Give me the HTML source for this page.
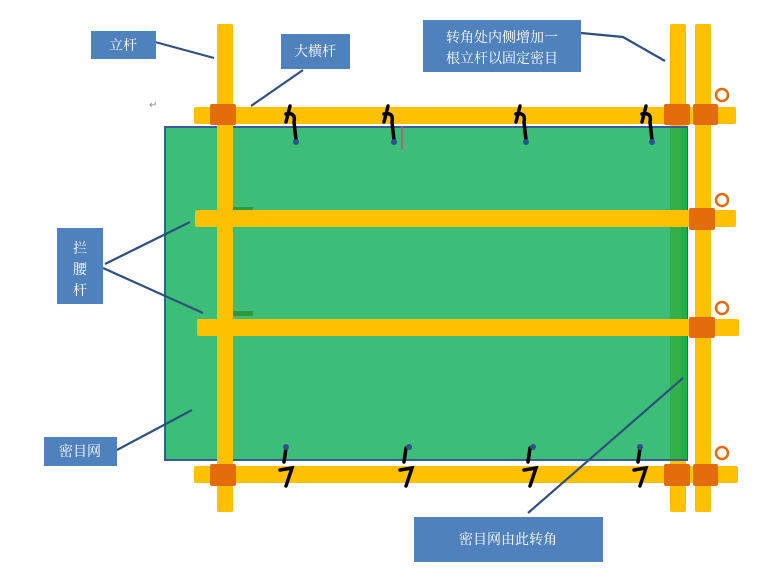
<!DOCTYPE html>
<html><head><meta charset="utf-8"><style>
html,body{margin:0;padding:0;background:#fff;}
svg{display:block;}
text{font-family:"Liberation Serif","Noto Serif CJK SC","Noto Sans CJK SC",serif;fill:#fff;font-size:14px;}
</style></head><body>
<svg width="760" height="570" viewBox="0 0 760 570" xmlns="http://www.w3.org/2000/svg">
<!-- vertical poles (inner right behind net) -->
<rect x="670" y="24" width="16" height="488" rx="2" fill="#FFC000"/>
<!-- green net -->
<rect x="165" y="127" width="522" height="333" fill="#3DBE78" stroke="#3A5A9A" stroke-width="2"/>
<rect x="670" y="128" width="17" height="331" fill="#33B04A"/>
<rect x="681" y="128" width="6" height="331" fill="#1FB043"/>
<!-- small tabs -->
<rect x="233" y="207" width="20" height="5" fill="#2E9A40"/>
<rect x="233" y="311" width="20" height="5" fill="#2E9A40"/>
<rect x="217" y="24" width="16" height="488" rx="2" fill="#FFC000"/>
<rect x="695" y="24" width="16" height="488" rx="2" fill="#FFC000"/>
<!-- horizontal bars -->
<rect x="194" y="107" width="542" height="17" rx="2" fill="#FFC000"/>
<rect x="195" y="210" width="541" height="17" rx="2" fill="#FFC000"/>
<rect x="197" y="319" width="542" height="17" rx="2" fill="#FFC000"/>
<rect x="194" y="466" width="544" height="17" rx="2" fill="#FFC000"/>
<!-- orange squares -->
<g fill="#E36C0A">
<rect x="210" y="104" width="26" height="21" rx="2"/>
<rect x="664" y="104" width="26" height="21" rx="2"/>
<rect x="693" y="104" width="25" height="21" rx="2"/>
<rect x="689" y="208" width="26" height="22" rx="2"/>
<rect x="689" y="317" width="26" height="21" rx="2"/>
<rect x="210" y="464" width="26" height="22" rx="2"/>
<rect x="664" y="464" width="26" height="22" rx="2"/>
<rect x="693" y="464" width="25" height="22" rx="2"/>
</g>
<!-- rings -->
<g fill="none" stroke="#E36C0A" stroke-width="2.5">
<circle cx="722" cy="95" r="6"/>
<circle cx="722" cy="200" r="6"/>
<circle cx="722" cy="308" r="6"/>
<circle cx="722" cy="453" r="6"/>
</g>
<!-- hooks -->
<g fill="none" stroke="#000" stroke-width="3.5" stroke-linecap="round">
<path d="M290,106 L286,122 M286,114 Q296,112 294,122 L296,140"/>
<path d="M388,106 L384,122 M384,114 Q394,112 392,122 L394,140"/>
<path d="M520,106 L516,122 M516,114 Q526,112 524,122 L526,140"/>
<path d="M646,106 L642,122 M642,114 Q652,112 650,122 L652,140"/>
<path d="M286,448 L284,462 M280,470 L292,468 L286,486"/>
<path d="M406,448 L404,462 M400,470 L412,468 L406,486"/>
<path d="M530,448 L528,462 M524,470 L536,468 L530,486"/>
<path d="M640,448 L638,462 M634,470 L646,468 L640,486"/>
</g>
<g fill="#2F4F8F">
<circle cx="296" cy="142" r="3"/><circle cx="394" cy="142" r="3"/><circle cx="526" cy="142" r="3"/><circle cx="652" cy="142" r="3"/>
<circle cx="286" cy="447" r="3"/><circle cx="409" cy="447" r="3"/><circle cx="533" cy="447" r="3"/><circle cx="640" cy="447" r="3"/>
</g>
<line x1="402" y1="126" x2="402" y2="150" stroke="#C0508A" stroke-width="1.5"/>
<!-- leader lines -->
<g stroke="#2F4F7F" stroke-width="2.2" fill="none">
<line x1="155" y1="42" x2="214" y2="58"/>
<line x1="303" y1="70" x2="251" y2="106"/>
<polyline points="581,33 623,37 665,61"/>
<line x1="105" y1="264" x2="190" y2="222"/>
<line x1="103" y1="268" x2="203" y2="313"/>
<line x1="117" y1="450" x2="192" y2="410"/>
<line x1="528" y1="513" x2="683" y2="378"/>
</g>
<!-- label boxes -->
<g fill="#4F81BD">
<rect x="91" y="31" width="65" height="28"/>
<rect x="281" y="34" width="69" height="35"/>
<rect x="423" y="20" width="158" height="52"/>
<rect x="57" y="228" width="46" height="76"/>
<rect x="44" y="437" width="73" height="29"/>
<rect x="414" y="517" width="189" height="45"/>
</g>
<text x="123" y="50" text-anchor="middle">立杆</text>
<text x="315" y="56" text-anchor="middle">大横杆</text>
<text x="502" y="42" text-anchor="middle">转角处内侧增加一</text>
<text x="502" y="63" text-anchor="middle">根立杆以固定密目</text>
<text x="80" y="253" text-anchor="middle">拦</text>
<text x="80" y="274" text-anchor="middle">腰</text>
<text x="80" y="295" text-anchor="middle">杆</text>
<text x="80" y="456" text-anchor="middle">密目网</text>
<text x="508" y="544" text-anchor="middle">密目网由此转角</text>
<text x="149" y="108" style="fill:#888;font-size:10px">↵</text>
</svg>
</body></html>
